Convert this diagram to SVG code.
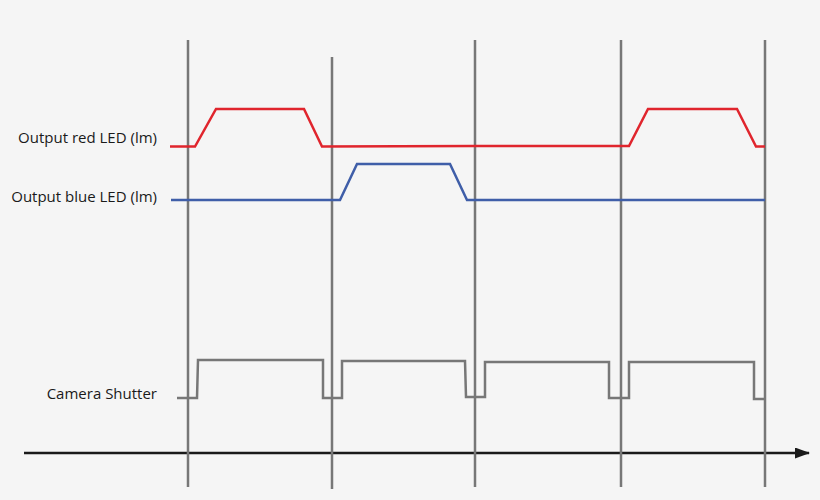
<svg xmlns="http://www.w3.org/2000/svg" width="820" height="500" viewBox="0 0 820 500">
<defs>
<style>
.lbl{font-family:"Open Sans","Liberation Sans",sans-serif;font-size:15px;fill:#1a1a1a;text-anchor:end}
.grid{stroke:#777;stroke-width:2.5;fill:none}
.sig{fill:none;stroke-width:2.5;stroke-linejoin:miter}
</style>
<marker id="arr" markerWidth="15" markerHeight="11" refX="14" refY="5.5" orient="auto" markerUnits="userSpaceOnUse">
<path d="M0,0 L15,5.5 L0,11 Z" fill="#1a1a1a"/>
</marker>
</defs>
<rect width="820" height="500" fill="#f5f5f5"/>
<g id="labels">
<text class="lbl" x="157" y="143">Output red LED (lm)</text>
<text class="lbl" x="157" y="202">Output blue LED (lm)</text>
<text class="lbl" x="157" y="399">Camera Shutter</text>
</g>
<g id="connectors">
<line x1="24" y1="453" x2="809" y2="453" stroke="#1a1a1a" stroke-width="2.5" marker-end="url(#arr)"/>
<line class="grid" x1="188" y1="40" x2="188" y2="487"/>
<line class="grid" x1="332" y1="57" x2="332" y2="489"/>
<line class="grid" x1="475" y1="40" x2="475" y2="487"/>
<line class="grid" x1="621" y1="40" x2="621" y2="487"/>
<line class="grid" x1="765" y1="40" x2="765" y2="487"/>
</g>
<g id="red-led">
<polyline class="sig" stroke="#e0252d" points="170,146.5 195,146.5 216,109 304,109 322,146.5 475,146 629,146 648,109 737,109 756,146.5 765,146.5"/>
</g>
<g id="blue-led">
<polyline class="sig" stroke="#3f5ea8" points="171,200 340,200 357,164 450,164 467,200 765,200"/>
</g>
<g id="camera-shutter">
<polyline class="sig" stroke="#777" points="177,398 197,398 198,360 323,360 323,398 342,398 342,361 465,361 466,397 485,397 485,362 609,362 609,398 629,398 629,362 754,362 754,399 764,399"/>
</g>
</svg>
